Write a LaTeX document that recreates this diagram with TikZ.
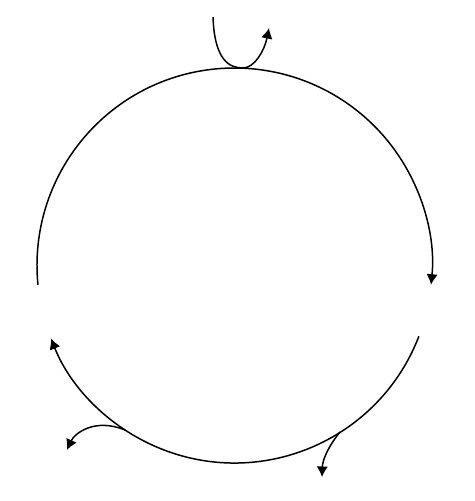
\documentclass[tikz,border=0pt]{standalone}
\usepackage{tikz}
\usetikzlibrary{arrows.meta, calc}

\begin{document}
\begin{tikzpicture}[x=0.02cm, y=0.02cm, line width=0.85pt, >={Latex[length=6pt,width=6.5pt]}]
	\useasboundingbox (-234.5,-235.5) rectangle (239.5,265.5);
	\pgfmathsetmacro{\rad}{197.5}
	% the ring, in two pieces
	\draw[->] (185.6:\rad) arc (185.6:-5.6:\rad);
	\draw[->] (-21:\rad) arc (-21:-158.3:\rad);
	
	% loop at the top
	\coordinate (loopstart) at (-21.5,248.5);
	\coordinate (touch) at (8.5,197.5);
	\coordinate (looptip) at (34.5,237.5);
	\draw[->] (loopstart) .. controls (-20,205) and (-5,197.5) .. (touch) .. controls (20,197.5) and (30,215) .. (looptip);
	
	% branches at the bottom
	\coordinate (rightfork) at (105.5,-166.5);
	\coordinate (righttip) at (87.5,-211.5);
	\draw[->] (rightfork) .. controls (93,-182) and (88,-195) .. (righttip);
	\coordinate (leftfork) at (-109.5,-164.5);
	\coordinate (lefttip) at (-167.5,-184.5);
	\draw[->] (leftfork) .. controls (-140,-152) and (-160,-168) .. (lefttip);
\end{tikzpicture}
\end{document}
